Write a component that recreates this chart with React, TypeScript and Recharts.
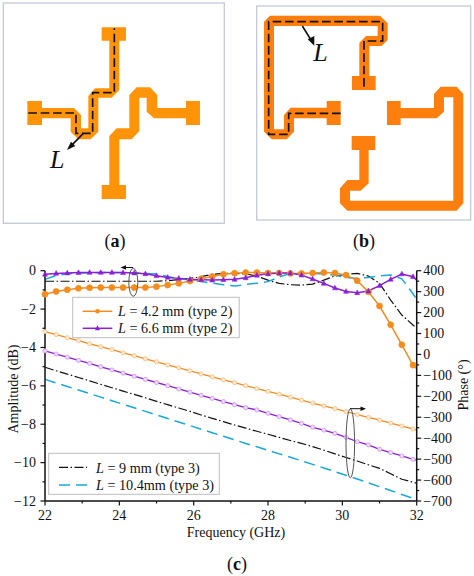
import { ComposedChart, Line, XAxis, YAxis } from 'recharts';

// 22 to 31.9 GHz in 0.3 GHz steps, plus the end of the sweep
const frequency = [
  22, 22.3, 22.6, 22.9, 23.2, 23.5, 23.8, 24.1, 24.4, 24.7, 25, 25.3, 25.6, 25.9, 26.2, 26.5, 26.8,
  27.1, 27.4, 27.7, 28, 28.3, 28.6, 28.9, 29.2, 29.5, 29.8, 30.1, 30.4, 30.7, 31, 31.3, 31.6, 31.9, 32,
];

// amplitude, dB
const amp42 = [
  -1.23, -1.08, -0.99, -0.92, -0.89, -0.88, -0.88, -0.88, -0.88, -0.88, -0.83, -0.75, -0.66, -0.54, -0.42, -0.3, -0.19,
  -0.13, -0.1, -0.1, -0.12, -0.12, -0.14, -0.14, -0.12, -0.1, -0.12, -0.23, -0.52, -1.1, -1.84, -2.82, -3.86, -4.92, -5.1,
];
const amp66 = [
  -0.19, -0.14, -0.12, -0.1, -0.09, -0.09, -0.09, -0.1, -0.12, -0.16, -0.26, -0.35, -0.4, -0.45, -0.47, -0.49, -0.47,
  -0.45, -0.37, -0.24, -0.16, -0.12, -0.12, -0.23, -0.43, -0.66, -0.9, -1.08, -1.15, -1.06, -0.78, -0.45, -0.17, -0.31, -0.5,
];
const amp9 = [
  -0.55, -0.55, -0.55, -0.55, -0.55, -0.55, -0.55, -0.55, -0.55, -0.55, -0.55, -0.52, -0.46, -0.4, -0.31, -0.19, -0.14,
  -0.14, -0.17, -0.28, -0.49, -0.66, -0.73, -0.75, -0.7, -0.49, -0.28, -0.19, -0.14, -0.28, -0.66, -1.53, -2.31, -2.83, -3,
];
const amp104 = [
  -0.45, -0.25, -0.17, -0.13, -0.11, -0.1, -0.1, -0.11, -0.12, -0.14, -0.17, -0.3, -0.42, -0.48, -0.56, -0.65, -0.73,
  -0.8, -0.72, -0.65, -0.57, -0.33, -0.14, -0.14, -0.15, -0.17, -0.23, -0.35, -0.4, -0.35, -0.27, -0.22, -0.42, -1.2, -1.5,
];

// phase, degrees
const phase42 = [
  109, 95, 80, 66, 51, 37, 23, 8, -6, -21, -35, -50, -64, -78, -93, -107, -121,
  -135, -149, -163, -176, -190, -204, -218, -232, -246, -259, -273, -287, -301, -314, -328, -342, -356, -361,
];
const phase66 = [
  17, 2, -13, -28, -43, -59, -74, -89, -104, -119, -134, -149, -165, -180, -195, -210, -225,
  -240, -254, -265, -281, -297, -313, -329, -348, -361, -377, -396, -417, -432, -453, -469, -485, -501, -505,
];
const phase9 = [
  -61, -78, -94, -110, -126, -143, -159, -175, -191, -207, -224, -240, -256, -272, -289, -305, -321,
  -337, -352, -367, -381, -396, -411, -425, -440, -457, -475, -492, -509, -527, -544, -570, -596, -610, -615,
];
const phase104 = [
  -119, -136, -153, -170, -187, -204, -221, -238, -255, -272, -289, -306, -323, -340, -357, -374, -391,
  -408, -425, -441, -458, -475, -491, -508, -525, -542, -560, -577, -595, -613, -632, -650, -669, -687, -690,
];

const freqTicks = [22, 23, 24, 25, 26, 27, 28, 29, 30, 31, 32];
const ampTicks = [0, -1, -2, -3, -4, -5, -6, -7, -8, -9, -10, -11, -12];
const phaseTicks = [
  400, 350, 300, 250, 200, 150, 100, 50, 0, -50, -100, -150, -200, -250, -300, -350, -400, -450, -500, -550, -600, -650, -700,
];

const rows = frequency.map((f, i) => ({
  f,
  amp42: amp42[i],
  amp66: amp66[i],
  amp9: amp9[i],
  amp104: amp104[i],
  phase42: phase42[i],
  phase66: phase66[i],
  phase9: phase9[i],
  phase104: phase104[i],
}));

const ORANGE = '#f28c1e';
const PURPLE = '#8a1fd6';
const BLUE = '#1ba7da';
const SERIF = '"Liberation Serif", serif';
const LAST = frequency.length - 1;

const fmt = (v: number) => String(v).replace('-', '\u2212');

function CircleDot({ cx, cy, index, fill, stroke, r = 2.3 }: any) {
  if (index === LAST) return <g key={index} />;
  return <circle key={index} cx={cx} cy={cy} r={r} fill={fill} stroke={stroke} strokeWidth={0.7} />;
}

function TriangleDot({ cx, cy, index, fill, stroke }: any) {
  if (index === LAST) return <g key={index} />;
  return (
    <polygon
      key={index}
      points={`${cx},${cy - 2.8} ${cx + 2.5},${cy + 1.9} ${cx - 2.5},${cy + 1.9}`}
      fill={fill}
      stroke={stroke}
      strokeWidth={0.5}
    />
  );
}

function XTick({ x, y, payload }: any) {
  const major = payload.value % 2 === 0;
  return (
    <g>
      <line x1={x} x2={x} y1={y} y2={y + (major ? 4.5 : 2.5)} stroke="#111" strokeWidth={1.2} />
      {major && (
        <text x={x} y={y + 19} textAnchor="middle" fontSize={14} fontFamily={SERIF} fill="#111">
          {payload.value}
        </text>
      )}
    </g>
  );
}

function LeftTick({ x, y, payload }: any) {
  const major = payload.value % 2 === 0;
  return (
    <g>
      <line x1={x} x2={x - (major ? 4.5 : 2.5)} y1={y} y2={y} stroke="#111" strokeWidth={1.2} />
      {major && (
        <text x={x - 9} y={y + 4.5} textAnchor="end" fontSize={14} fontFamily={SERIF} fill="#111">
          {fmt(payload.value)}
        </text>
      )}
    </g>
  );
}

function RightTick({ x, y, payload }: any) {
  const major = payload.value % 100 === 0;
  return (
    <g>
      <line x1={x} x2={x + (major ? 4.5 : 2.5)} y1={y} y2={y} stroke="#111" strokeWidth={1.2} />
      {major && (
        <text x={x + 6.5} y={y + 4.5} textAnchor="start" fontSize={14} fontFamily={SERIF} fill="#111">
          {fmt(payload.value)}
        </text>
      )}
    </g>
  );
}

// the two antenna sketches are drawn in 3x coordinates
function SketchA() {
  return (
    <g transform="scale(0.3333)">
      <rect x={10} y={9} width={663} height={661} fill="#fff" stroke="#c6c9d8" strokeWidth={4} />
      <polygon
        fill="#ff9408"
        points="82,303 126,303 126,324 222,324 243,345 243,385 265,385 265,288 285,265 328,265 328,122 305,122 305,82 378,82 378,122 358,122 358,270 335,293 295,293 295,395 272,418 235,418 212,395 212,355 126,355 126,375 82,375"
      />
      <polygon
        fill="#ff9408"
        points="305,555 328,555 328,408 350,385 388,385 388,285 410,262 450,262 472,285 472,324 558,324 558,303 600,303 600,375 558,375 558,355 462,355 440,335 440,293 418,293 418,393 395,418 358,418 358,555 378,555 378,597 305,597"
      />
      <path d="M85,339 L228,339 L228,400 L278,400 L278,278 L343,278 L343,85" fill="none" stroke="#111" strokeWidth={5} strokeDasharray="26 11" />
      <path d="M250,400 L208,443" stroke="#111" strokeWidth={5} />
      <polygon points="201,450 213,425 226,438" fill="#111" />
      <text x={150} y={504} fontSize={78} fontStyle="italic" fontFamily={SERIF} fill="#111">L</text>
    </g>
  );
}

function SketchB() {
  return (
    <g transform="translate(240,0) scale(0.3333)">
      <rect x={50} y={18} width={642} height={642} fill="#fff" stroke="#c6c9d8" strokeWidth={4} />
      <polygon
        fill="#ff7f0e"
        points="90,47 420,47 443,70 443,120 425,138 388,138 388,228 407,228 407,270 336,270 336,228 358,228 358,128 378,108 413,108 413,78 102,78 102,388 132,388 132,345 152,323 260,323 260,303 302,303 302,375 260,375 260,355 162,355 162,395 140,418 95,418 72,395 72,65"
      />
      <polygon
        fill="#ff7f0e"
        points="441,303 482,303 482,324 582,324 582,282 602,260 650,260 670,282 670,610 650,632 322,632 300,610 300,565 322,540 358,540 358,450 335,450 335,408 406,408 406,450 386,450 386,550 362,572 330,572 330,602 640,602 640,292 612,292 612,335 590,355 482,355 482,375 441,375"
      />
      <path d="M302,340 L146,340 L146,403 L86,403 L86,65 L428,65 L428,123 L372,123 L372,268" fill="none" stroke="#111" strokeWidth={5} strokeDasharray="26 11" />
      <path d="M187,78 L218,128" stroke="#111" strokeWidth={5} />
      <polygon points="223,137 203,118 223,108" fill="#111" />
      <text x={220} y={184} fontSize={78} fontStyle="italic" fontFamily={SERIF} fill="#111">L</text>
    </g>
  );
}

function LegendText({ x, y, rest }: { x: number; y: number; rest: string }) {
  return (
    <text x={x} y={y} fontSize={14.2} fontFamily={SERIF} fill="#111">
      <tspan fontStyle="italic">L</tspan>
      {rest}
    </text>
  );
}

function Overlay() {
  return (
    <svg width={474} height={576} style={{ position: 'absolute', left: 0, top: 0, pointerEvents: 'none' }}>
      <SketchA />
      <SketchB />

      <text x={115} y={247} textAnchor="middle" fontSize={18} fontFamily={SERIF} fill="#111">
        (<tspan fontWeight="bold">a</tspan>)
      </text>
      <text x={364} y={247} textAnchor="middle" fontSize={18} fontFamily={SERIF} fill="#111">
        (<tspan fontWeight="bold">b</tspan>)
      </text>
      <text x={237} y={570} textAnchor="middle" fontSize={18} fontFamily={SERIF} fill="#111">
        (<tspan fontWeight="bold">c</tspan>)
      </text>

      <text x={236} y={537} textAnchor="middle" fontSize={14} fontFamily={SERIF} fill="#111">Frequency (GHz)</text>
      <text transform="translate(18,389) rotate(-90)" textAnchor="middle" fontSize={14} fontFamily={SERIF} fill="#111">Amplitude (dB)</text>
      <text transform="translate(468,385) rotate(-90)" textAnchor="middle" fontSize={14} fontFamily={SERIF} fill="#111">Phase (°)</text>

      {/* upper legend */}
      <rect x={72.7} y={297.3} width={166.5} height={40.4} fill="#fff" stroke="#bdbdbd" strokeWidth={1} />
      <line x1={82.7} x2={112.3} y1={311.3} y2={311.3} stroke={ORANGE} strokeWidth={1.5} />
      <circle cx={97.5} cy={311.3} r={2.3} fill={ORANGE} />
      <LegendText x={118} y={316} rest=" = 4.2 mm (type 2)" />
      <line x1={82.7} x2={112.3} y1={328.3} y2={328.3} stroke={PURPLE} strokeWidth={1.5} />
      <polygon points="97.5,325.3 100,330.2 95,330.2" fill={PURPLE} />
      <LegendText x={118} y={333} rest=" = 6.6 mm (type 2)" />

      {/* lower legend */}
      <rect x={48.7} y={453.3} width={170.6} height={41} fill="#fff" stroke="#bdbdbd" strokeWidth={1} />
      <line x1={59} x2={87} y1={467.3} y2={467.3} stroke="#111" strokeWidth={1.2} strokeDasharray="9 2.5 1.5 2.5" />
      <LegendText x={96} y={473} rest=" = 9 mm (type 3)" />
      <line x1={59} x2={90} y1={485} y2={485} stroke={BLUE} strokeWidth={1.5} strokeDasharray="11 6" />
      <LegendText x={96} y={490} rest=" = 10.4mm (type 3)" />

      {/* ellipses and arrows tying curves to their axis */}
      <ellipse cx={133.3} cy={282.3} rx={4.5} ry={14} fill="none" stroke="#555" strokeWidth={1} />
      <line x1={133} x2={124} y1={267.5} y2={267.5} stroke="#111" strokeWidth={1} />
      <polygon points="120.5,267.5 126,265.3 126,269.7" fill="#111" />
      <ellipse cx={350.3} cy={443.3} rx={4.3} ry={34.5} fill="none" stroke="#555" strokeWidth={1} />
      <line x1={350} x2={362} y1={408.7} y2={408.7} stroke="#111" strokeWidth={1} />
      <polygon points="366,408.7 360.5,406.5 360.5,410.9" fill="#111" />
    </svg>
  );
}

export default function App() {
  return (
    <div style={{ position: 'absolute', left: 0, top: 0, width: 474, height: 576, background: '#fff' }}>
      <ComposedChart
        width={474}
        height={576}
        data={rows}
        margin={{ top: 270.7, right: 0, bottom: 45, left: 0 }}
      >
        <XAxis
          dataKey="f"
          type="number"
          domain={[22, 32]}
          ticks={freqTicks}
          interval={0}
          height={30}
          tickSize={0}
          tickMargin={0}
          tick={<XTick />}
          axisLine={{ stroke: '#111', strokeWidth: 1.5 }}
        />
        <YAxis
          yAxisId="amp"
          orientation="left"
          type="number"
          domain={[-12, 0]}
          ticks={ampTicks}
          interval={0}
          width={45}
          tickSize={0}
          tickMargin={0}
          tick={<LeftTick />}
          axisLine={{ stroke: '#111', strokeWidth: 1.5 }}
        />
        <YAxis
          yAxisId="phase"
          orientation="right"
          type="number"
          domain={[-700, 400]}
          ticks={phaseTicks}
          interval={0}
          width={57.3}
          tickSize={0}
          tickMargin={0}
          tick={<RightTick />}
          axisLine={{ stroke: '#111', strokeWidth: 1.5 }}
        />

        <Line yAxisId="amp" dataKey="amp9" stroke="#111" strokeWidth={1.2} strokeDasharray="9 2.5 1.5 2.5" dot={false} isAnimationActive={false} />
        <Line yAxisId="amp" dataKey="amp104" stroke={BLUE} strokeWidth={1.5} strokeDasharray="11 6" dot={false} isAnimationActive={false} />
        <Line yAxisId="amp" dataKey="amp42" stroke={ORANGE} strokeWidth={1.5} isAnimationActive={false}
          dot={(p: any) => <CircleDot key={p.index} {...p} fill={ORANGE} stroke={ORANGE} />} />
        <Line yAxisId="amp" dataKey="amp66" stroke={PURPLE} strokeWidth={1.5} isAnimationActive={false}
          dot={(p: any) => <TriangleDot key={p.index} {...p} fill={PURPLE} stroke={PURPLE} />} />

        <Line yAxisId="phase" dataKey="phase9" stroke="#111" strokeWidth={1.2} strokeDasharray="9 2.5 1.5 2.5" dot={false} isAnimationActive={false} />
        <Line yAxisId="phase" dataKey="phase104" stroke={BLUE} strokeWidth={1.5} strokeDasharray="11 6" dot={false} isAnimationActive={false} />
        <Line yAxisId="phase" dataKey="phase42" stroke={ORANGE} strokeWidth={1.3} isAnimationActive={false}
          dot={(p: any) => <CircleDot key={p.index} {...p} fill="#ffe9d0" stroke="#f5b878" r={2.1} />} />
        <Line yAxisId="phase" dataKey="phase66" stroke={PURPLE} strokeWidth={1.3} isAnimationActive={false}
          dot={(p: any) => <CircleDot key={p.index} {...p} fill="#eed8fb" stroke="#c58cec" r={2.1} />} />
      </ComposedChart>
      <Overlay />
    </div>
  );
}
